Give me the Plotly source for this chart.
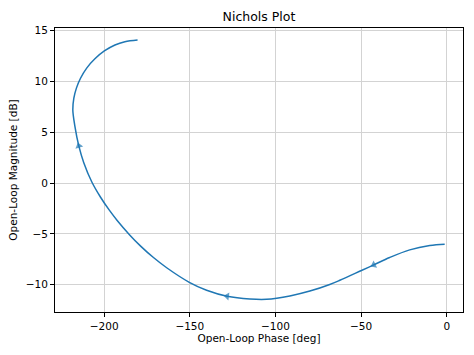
import plotly.graph_objects as go

# Nichols curve, in the direction of the arrows
phase_deg = [-1.2, -9.9, -21.6, -33.3, -42.6, -49.8, -62.4, -68.3, -79.9, -91.6,
             -105.2, -114.9, -128.2, -140.2, -150.3, -163.5, -171.4, -178.7,
             -185.1, -192.4, -197.2, -202.1, -207.2, -211.9, -214.8, -217.1,
             -218.3, -217.7, -216.2, -213.8, -210.2, -205.4, -199.9, -193.7,
             -187.9, -180.5]
mag_db = [-6.01, -6.14, -6.57, -7.32, -8.05, -8.60, -9.56, -9.97, -10.62, -11.10,
          -11.43, -11.40, -11.13, -10.54, -9.76, -8.33, -7.30, -6.20,
          -5.10, -3.68, -2.62, -1.40, 0.10, 2.00, 3.65, 5.60,
          7.20, 8.34, 9.33, 10.30, 11.30, 12.21, 12.98, 13.57,
          13.89, 14.06]
arrow_idx = [4, 12, 24]

x_ticks = [-200, -150, -100, -50, 0]
y_ticks = [-10, -5, 0, 5, 10, 15]

BLUE = "#1f77b4"
FONT = "DejaVu Sans"

sizes = [7 if i in arrow_idx else 0 for i in range(len(phase_deg))]

fig = go.Figure()
fig.add_trace(go.Scatter(x=phase_deg, y=mag_db, mode="lines",
                         line=dict(color=BLUE, width=1.5, shape="spline", smoothing=1),
                         hoverinfo="skip", showlegend=False))
fig.add_trace(go.Scatter(x=phase_deg, y=mag_db, mode="markers",
                         marker=dict(symbol="triangle-up", size=sizes, color=BLUE,
                                     angleref="previous", line=dict(width=0)),
                         hoverinfo="skip", showlegend=False))

axis_common = dict(showline=True, mirror=True, linecolor="black", linewidth=1,
                   ticks="outside", ticklen=4, tickcolor="black", tickwidth=1,
                   showgrid=True, gridcolor="#d3d3d3", gridwidth=1, zeroline=False,
                   tickfont=dict(family=FONT, size=10.5, color="black"))

fig.update_layout(
    width=474, height=355,
    margin=dict(l=55, r=11, t=28, b=43),
    paper_bgcolor="white", plot_bgcolor="white",
    font=dict(family=FONT, color="black"),
    title=dict(text="Nichols Plot", x=0.5, xref="paper", y=1 - 17 / 355,
               yref="container", xanchor="center", yanchor="middle",
               font=dict(family=FONT, size=12.5, color="black")),
    xaxis=dict(range=[-228.7, 9.5], tickvals=x_ticks,
               title=dict(text="Open-Loop Phase [deg]", standoff=4,
                          font=dict(family=FONT, size=10.5)),
               **axis_common),
    yaxis=dict(range=[-12.68, 15.24], tickvals=y_ticks,
               title=dict(text="Open-Loop Magnitude [dB]", standoff=6,
                          font=dict(family=FONT, size=10.5)),
               **axis_common),
)

fig.write_html("out.html")
